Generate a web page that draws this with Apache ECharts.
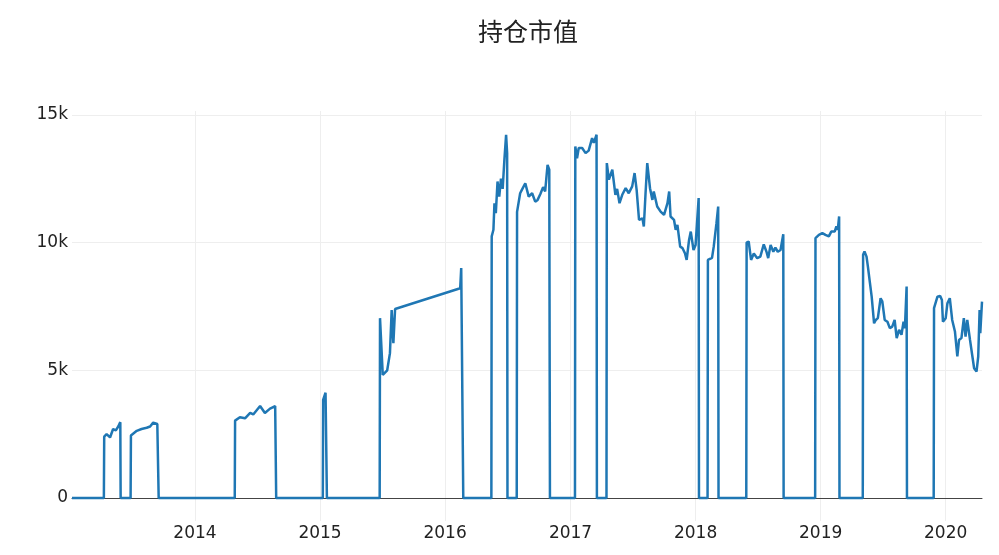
<!DOCTYPE html>
<html>
<head>
<meta charset="utf-8">
<script src="https://cdn.jsdelivr.net/npm/echarts@6/dist/echarts.min.js"></script>
<style>
html,body{margin:0;padding:0;background:#fff;}
#chart{width:999px;height:555px;}
</style>
</head>
<body>
<div id="chart"></div>
<script>
// ---- data ----
const titleText = '持仓市值';
const dates = [
 '2013-01-07','2013-04-10','2013-04-11','2013-04-18','2013-04-28','2013-05-07','2013-05-15','2013-05-22','2013-05-28','2013-05-29',
 '2013-06-27','2013-06-28','2013-07-15','2013-07-29','2013-08-13','2013-08-23','2013-09-01','2013-09-13','2013-09-16','2013-09-17',
 '2014-04-27','2014-04-28','2014-05-12','2014-05-27','2014-06-11','2014-06-20','2014-07-10','2014-07-24','2014-08-08','2014-08-23','2014-08-26',
 '2015-01-09','2015-01-10','2015-01-17','2015-01-21',
 '2015-06-24','2015-06-25','2015-07-03','2015-07-16','2015-07-24','2015-07-29','2015-08-03','2015-08-08','2015-08-13',
 '2016-02-14','2016-02-17','2016-02-23',
 '2016-05-15','2016-05-16','2016-05-21','2016-05-24','2016-05-28','2016-06-02','2016-06-07','2016-06-12','2016-06-17','2016-06-22','2016-06-27','2016-06-30','2016-07-01',
 '2016-07-28','2016-07-29','2016-08-07','2016-08-12','2016-08-22','2016-09-01','2016-09-11','2016-09-20','2016-09-27','2016-10-05','2016-10-13','2016-10-19','2016-10-26','2016-10-31','2016-11-02',
 '2017-01-14','2017-01-15','2017-01-20','2017-01-25','2017-02-04','2017-02-14','2017-02-23','2017-03-05','2017-03-10','2017-03-18','2017-03-19',
 '2017-04-16','2017-04-17','2017-04-23','2017-05-03','2017-05-12','2017-05-17','2017-05-24','2017-06-01','2017-06-11','2017-06-20','2017-06-30',
 '2017-07-07','2017-07-13','2017-07-20','2017-07-30','2017-08-03','2017-08-08','2017-08-13','2017-08-21','2017-08-28','2017-09-01','2017-09-11',
 '2017-09-21','2017-10-01','2017-10-11','2017-10-16','2017-10-20','2017-10-30','2017-11-04','2017-11-09','2017-11-17','2017-11-24','2017-12-01',
 '2017-12-06','2017-12-13','2017-12-18','2017-12-26','2018-01-01','2018-01-10','2018-01-11',
 '2018-02-05','2018-02-06','2018-02-18','2018-02-23','2018-03-03','2018-03-08','2018-03-09',
 '2018-05-29','2018-05-30','2018-06-05','2018-06-12','2018-06-20','2018-06-30','2018-07-09','2018-07-19','2018-07-27','2018-08-01','2018-08-08',
 '2018-08-16','2018-08-22','2018-08-29','2018-09-06','2018-09-14','2018-09-15',
 '2018-12-16','2018-12-17','2018-12-27','2019-01-06','2019-01-15','2019-01-25','2019-02-01','2019-02-11','2019-02-16','2019-02-20','2019-02-24','2019-02-25',
 '2019-05-04','2019-05-05','2019-05-09','2019-05-15','2019-05-19','2019-05-25','2019-05-30','2019-06-06','2019-06-11','2019-06-17','2019-06-25','2019-06-30',
 '2019-07-07','2019-07-15','2019-07-22','2019-07-29','2019-08-05','2019-08-11','2019-08-18','2019-08-25','2019-08-31','2019-09-04','2019-09-09','2019-09-10',
 '2019-11-27','2019-11-28','2019-12-08','2019-12-16','2019-12-21','2019-12-24','2020-01-01','2020-01-06','2020-01-13','2020-01-20','2020-01-28',
 '2020-02-04','2020-02-09','2020-02-16','2020-02-23','2020-02-28','2020-03-04','2020-03-12','2020-03-19','2020-03-24','2020-03-31','2020-04-05',
 '2020-04-09','2020-04-11','2020-04-16'
];
const values = [
 0,0,2400,2500,2370,2700,2650,2800,2970,0,
 0,2450,2630,2700,2750,2800,2950,2900,2880,0,
 0,3030,3160,3120,3330,3270,3600,3330,3500,3600,0,
 0,3840,4120,0,
 0,7040,4820,5000,5670,7360,6060,7400,7470,
 8210,9000,0,
 0,10240,10500,11540,11150,12390,11800,12500,12100,13240,14220,13500,0,
 0,11200,11930,12060,12320,11800,11930,11600,11670,11900,12170,12000,13040,12850,0,
 0,13760,13300,13700,13700,13500,13600,14090,13900,14220,0,
 0,13110,12460,12850,11870,12100,11540,11870,12130,11930,12200,
 12720,12060,10890,10950,10630,11930,13110,12130,11670,12000,11410,
 11210,11080,11540,12000,11020,10890,10500,10690,9840,9780,9580,
 9320,10100,10430,9710,9900,11740,0,
 0,9320,9400,9840,10760,11410,0,
 0,10000,10040,9320,9570,9390,9450,9930,9640,9390,9910,
 9640,9800,9640,9710,10330,0,
 0,10170,10300,10370,10300,10240,10430,10430,10630,10500,11020,0,
 0,9520,9650,9450,9060,8410,7880,6840,6970,7040,7820,7700,
 6970,6900,6650,6710,6970,6260,6580,6390,6900,6650,8280,0,
 0,7430,7880,7910,7750,6900,7040,7620,7820,6970,6520,
 5540,6190,6260,7040,6320,6970,6190,5540,5080,4950,5540,
 7360,6450,7690
];
const yTicks = [0, 5000, 10000, 15000];

// ---- chart ----
const chart = echarts.init(document.getElementById('chart'), null, {renderer: 'canvas'});
const seriesData = dates.map((d, i) => [d, values[i]]);
const YEAR_MS = 365 * 24 * 3600 * 1000;
const fontLat = '"DejaVu Sans", Verdana, sans-serif';

chart.setOption({
  animation: false,
  backgroundColor: '#fff',
  title: {
    text: titleText,
    left: 523,
    top: 14,
    textAlign: 'center',
    textStyle: {
      fontFamily: '"Noto Sans CJK SC", sans-serif',
      fontSize: 25,
      fontWeight: 'normal',
      color: '#222'
    }
  },
  grid: {left: 72, right: 17, top: 111, bottom: 34, containLabel: false, outerBoundsMode: 'none'},
  xAxis: {
    type: 'time',
    min: dates[0],
    max: dates[dates.length - 1],
    minInterval: YEAR_MS,
    maxInterval: YEAR_MS * 1.01,
    axisLine: {show: true, onZero: true, lineStyle: {color: '#444', width: 1}},
    axisTick: {show: false},
    axisLabel: {
      margin: 4,
      fontFamily: fontLat,
      fontSize: 17,
      color: '#222',
      showMinLabel: false,
      showMaxLabel: false,
      formatter: '{yyyy}'
    },
    splitLine: {show: true, showMinLine: false, showMaxLine: false, lineStyle: {color: '#eee', width: 1}}
  },
  yAxis: {
    type: 'value',
    min: -900,
    max: 15150,
    axisLine: {show: false},
    axisTick: {show: false, customValues: yTicks},
    axisLabel: {
      customValues: yTicks,
      margin: 4,
      fontFamily: fontLat,
      fontSize: 17,
      color: '#222',
      formatter: v => v === 0 ? '0' : (v / 1000) + 'k'
    },
    splitLine: {show: true, lineStyle: {color: '#eee', width: 1}}
  },
  series: [{
    type: 'line',
    data: seriesData,
    showSymbol: false,
    symbol: 'none',
    lineStyle: {color: '#1f77b4', width: 2.5},
    itemStyle: {color: '#1f77b4'},
    z: 3
  }]
});
</script>
</body>
</html>
